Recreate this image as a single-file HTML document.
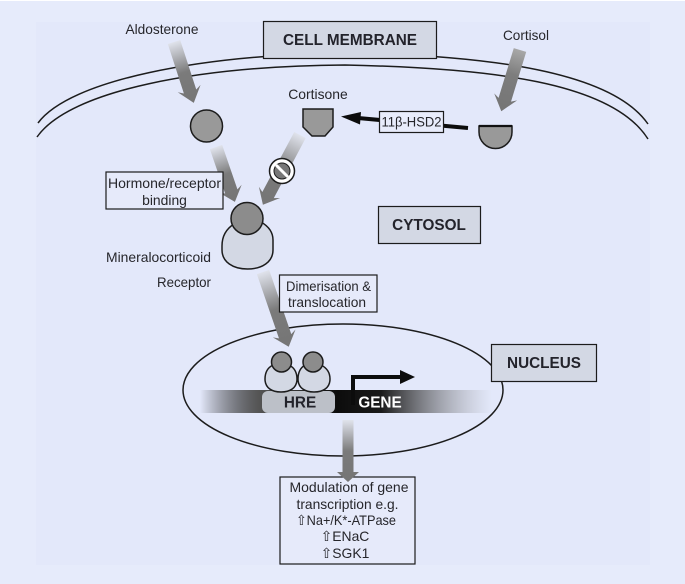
<!DOCTYPE html>
<html>
<head>
<meta charset="utf-8">
<style>
html,body{margin:0;padding:0;background:#e6ebfb;}
svg{display:block;}
text{font-family:"Liberation Sans",sans-serif;fill:#26262b;font-size:13.9px;text-anchor:middle;}
.b{font-weight:bold;font-size:15.3px;fill:#23232b;}
</style>
</head>
<body>
<svg width="685" height="584" viewBox="0 0 685 584" xmlns="http://www.w3.org/2000/svg">
<defs>
<linearGradient id="ag" x1="0" y1="0" x2="0" y2="1">
<stop offset="0" stop-color="#e0e3ec"/><stop offset=".5" stop-color="#7b7b7b"/><stop offset="1" stop-color="#757575"/>
</linearGradient>
<linearGradient id="ag2" x1="0" y1="0" x2="0" y2="1">
<stop offset="0" stop-color="#a8a8a8"/><stop offset=".4" stop-color="#7d7d7d"/><stop offset="1" stop-color="#757575"/>
</linearGradient>
<linearGradient id="dna" x1="0" y1="0" x2="1" y2="0">
<stop offset="0" stop-color="#000" stop-opacity="0"/>
<stop offset=".2" stop-color="#555"/>
<stop offset=".47" stop-color="#0c0c0c"/>
<stop offset=".62" stop-color="#1a1a1a"/>
<stop offset="1" stop-color="#888" stop-opacity="0"/>
</linearGradient>
</defs>
<rect width="685" height="584" fill="#e6ebfb"/>
<rect width="685" height="1" fill="#ffffff"/>
<rect x="36" y="22" width="614" height="543" fill="#e3e8fa"/>

<!-- membrane -->
<path d="M38 123 C70 80 200 55 345 53 C490 55 612 72 648 124" fill="none" stroke="#1c1c1c" stroke-width="1.5"/>
<path d="M37 137 C70 90 200 66 345 65 C490 68 612 82 648 139" fill="none" stroke="#1c1c1c" stroke-width="1.5"/>

<!-- nucleus -->
<ellipse cx="343" cy="390" rx="160" ry="66" fill="#e3e8fa" stroke="#1c1c1c" stroke-width="1.5"/>

<!-- gradient arrows -->
<g transform="translate(174,42) rotate(-18)"><polygon points="-6.5,0 6.5,0 6.5,52 12,49 0,64 -12,49 -6.5,52" fill="url(#ag)"/></g>
<g transform="translate(216,147) rotate(-19)"><polygon points="-6.5,0 6.5,0 6.5,47 12,44 0,58 -12,44 -6.5,47" fill="url(#ag)"/></g>
<g transform="translate(300,135) rotate(28)"><polygon points="-6.5,0 6.5,0 6.5,68 12,65 0,79 -12,65 -6.5,68" fill="url(#ag)"/></g>
<g transform="translate(520,50) rotate(17)"><polygon points="-6.5,0 6.5,0 6.5,52 12,49 0,64 -12,49 -6.5,52" fill="url(#ag2)"/></g>
<g transform="translate(263,272) rotate(-19)"><polygon points="-6.5,0 6.5,0 6.5,68 12,65 0,79 -12,65 -6.5,68" fill="url(#ag)"/></g>

<!-- hormones -->
<circle cx="206.5" cy="126" r="16" fill="#999" stroke="#1c1c1c" stroke-width="1.5"/>
<polygon points="303,109 333,109 333,127 325,136 312,136 303,127" fill="#999" stroke="#1c1c1c" stroke-width="1.5"/>
<path d="M479 126 H512 V132 A16.5 16.5 0 0 1 479 132 Z" fill="#999" stroke="#1c1c1c" stroke-width="1.5"/>
<line x1="479" y1="126" x2="512" y2="126" stroke="#111" stroke-width="2.2"/>

<!-- black arrow -->
<line x1="468" y1="128" x2="358" y2="118" stroke="#0c0c0c" stroke-width="4"/>
<polygon points="341,116.5 361,112 360,124.5" fill="#0c0c0c"/>

<!-- blocker -->
<circle cx="282" cy="171" r="12.5" fill="#fff" stroke="#1c1c1c" stroke-width="1.5"/>
<circle cx="282" cy="171" r="8" fill="#777" stroke="#1c1c1c" stroke-width="1"/>
<line x1="276" y1="165" x2="288" y2="177" stroke="#fff" stroke-width="3"/>

<!-- receptor -->
<path d="M234 224 C226 229 222 236 222 246 V250 C222 262 233 269 247.5 269 C262 269 273 262 273 250 V240 C273 232 268 226 261 222 Z" fill="#d3d8e4" stroke="#1c1c1c" stroke-width="1.5"/>
<circle cx="247" cy="218.5" r="16" fill="#8c8c8c" stroke="#1c1c1c" stroke-width="1.5"/>

<!-- DNA -->
<rect x="200" y="390" width="292" height="23" fill="url(#dna)"/>
<rect x="262" y="391" width="73" height="22" rx="6" fill="#bcc0c8"/>
<polyline points="353,405 353,377 402,377" fill="none" stroke="#0c0c0c" stroke-width="4"/>
<polygon points="400,370 415,377 400,384" fill="#0c0c0c"/>
<text class="b" x="300" y="407.5">HRE</text>
<text class="b" x="380" y="407.5" style="fill:#fff">GENE</text>

<!-- dimer -->
<path d="M273 365 C267 368 265 373 265 379 C265 388 272 392 281 392 C290 392 297 388 297 379 C297 373 295 368 289 365 Z" fill="#d3d8e4" stroke="#1c1c1c" stroke-width="1.5"/>
<path d="M305 365 C300 368 298 373 298 379 C298 388 305 392 314 392 C323 392 330 388 330 379 C330 373 327 368 321 365 Z" fill="#d3d8e4" stroke="#1c1c1c" stroke-width="1.5"/>
<circle cx="281.5" cy="362" r="10" fill="#8c8c8c" stroke="#1c1c1c" stroke-width="1.5"/>
<circle cx="313" cy="362" r="10" fill="#8c8c8c" stroke="#1c1c1c" stroke-width="1.5"/>

<!-- boxes -->
<rect x="263.5" y="21.5" width="173" height="37" fill="#d3d8e4" stroke="#1c1c1c" stroke-width="1.2"/>
<text class="b" x="350" y="45">CELL MEMBRANE</text>
<rect x="378.5" y="206.5" width="102" height="37" fill="#d3d8e4" stroke="#1c1c1c" stroke-width="1.2"/>
<text class="b" x="429" y="230">CYTOSOL</text>
<rect x="491.5" y="344.5" width="105" height="37" fill="#d3d8e4" stroke="#1c1c1c" stroke-width="1.2"/>
<text class="b" x="544" y="368">NUCLEUS</text>

<rect x="379.5" y="111.5" width="64" height="21" fill="#e8ecfb" stroke="#1c1c1c" stroke-width="1.2"/>
<text x="411.5" y="126.5" textLength="60" lengthAdjust="spacingAndGlyphs">11β-HSD2</text>

<rect x="106" y="172" width="117" height="37" fill="#e6eafa" stroke="#1c1c1c" stroke-width="1.2"/>
<text x="164.5" y="188" textLength="113" lengthAdjust="spacingAndGlyphs">Hormone/receptor</text>
<text x="164.5" y="205">binding</text>

<rect x="279.5" y="275" width="97.5" height="37" fill="#e6eafa" stroke="#1c1c1c" stroke-width="1.2"/>
<text x="328.5" y="291" textLength="85" lengthAdjust="spacingAndGlyphs">Dimerisation &amp;</text>
<text x="327" y="307" textLength="78" lengthAdjust="spacingAndGlyphs">translocation</text>

<!-- down arrow -->
<rect x="280" y="477" width="135" height="87" fill="#e6eafa" stroke="#1c1c1c" stroke-width="1.2"/>
<g transform="translate(348,420)"><polygon points="-5.5,0 5.5,0 5.5,52 11,52 0,62 -11,52 -5.5,52" fill="url(#ag)"/></g>

<text x="349" y="492" textLength="119" lengthAdjust="spacingAndGlyphs">Modulation of gene</text>
<text x="347.5" y="509" textLength="102" lengthAdjust="spacingAndGlyphs">transcription e.g.</text>
<text x="346" y="525" textLength="100" lengthAdjust="spacingAndGlyphs">⇧Na+/K*-ATPase</text>
<text x="345" y="541">⇧ENaC</text>
<text x="345" y="558">⇧SGK1</text>

<!-- labels -->
<text x="162" y="34" textLength="73" lengthAdjust="spacingAndGlyphs">Aldosterone</text>
<text x="318" y="99">Cortisone</text>
<text x="526" y="40" textLength="46" lengthAdjust="spacingAndGlyphs">Cortisol</text>
<text x="158.5" y="262" textLength="105" lengthAdjust="spacingAndGlyphs">Mineralocorticoid</text>
<text x="184" y="287" textLength="54" lengthAdjust="spacingAndGlyphs">Receptor</text>
</svg>
</body>
</html>
